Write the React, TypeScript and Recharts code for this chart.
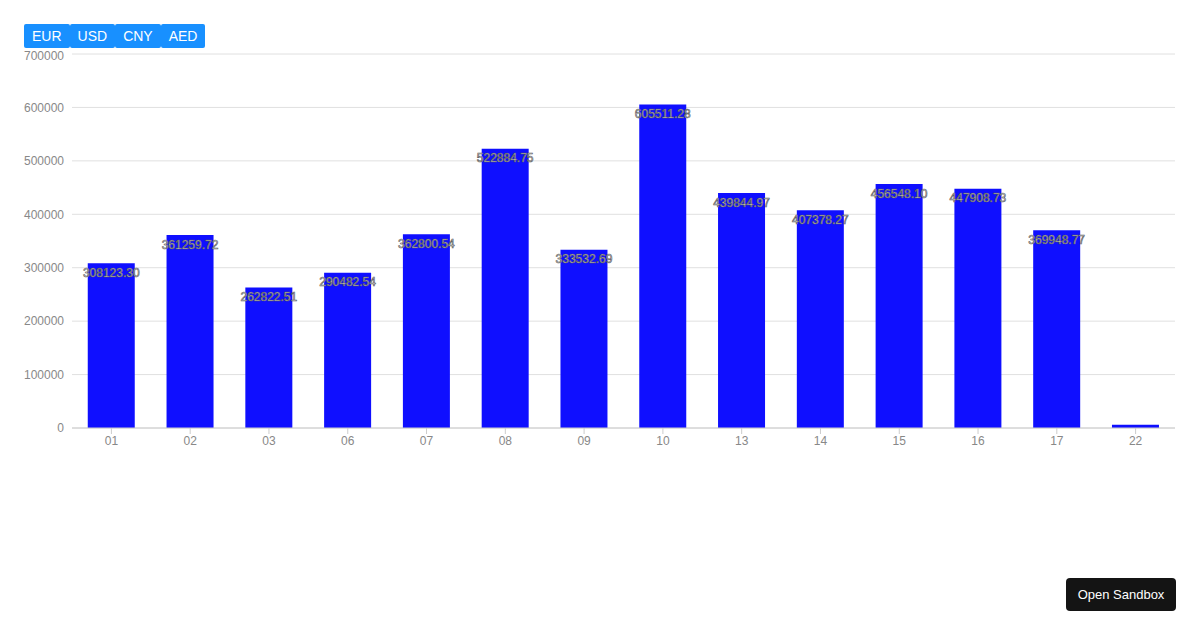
import { BarChart, Bar, XAxis, YAxis, CartesianGrid, LabelList } from "recharts";

const days = ["01", "02", "03", "06", "07", "08", "09", "10", "13", "14", "15", "16", "17", "22"];
const amounts = [
    308123.3, 361259.72, 262822.51, 290482.54, 362800.54, 522884.75, 333532.69,
    605511.28, 439844.97, 407378.27, 456548.1, 447908.73, 369948.77, 5900,
];
const yTicks = [0, 100000, 200000, 300000, 400000, 500000, 600000, 700000];
const currencies = ["EUR", "USD", "CNY", "AED"];

const data = days.map((day, i) => ({ day, amount: amounts[i] }));

// value label drawn just inside the top of each bar; skipped when the bar is too short
const BarValue = (props: any) => {
    const { x, y, width, height, value } = props;
    if (height < 14) return null;
    return (
        <text
            x={x + width / 2}
            y={y + 5}
            dy="0.71em"
            textAnchor="middle"
            fontSize={12}
            fill="#e8e8e8"
            stroke="#555"
            strokeWidth={0.6}
        >
            {Number(value).toFixed(2)}
        </text>
    );
};

export default function App() {
    return (
        <div style={{ position: "relative", width: 1184, height: 614, fontFamily: "'Liberation Sans', Arial, sans-serif" }}>
            <div style={{ position: "absolute", left: 16, top: 16, display: "flex", zIndex: 2 }}>
                {currencies.map((c) => (
                    <button
                        key={c}
                        style={{
                            height: 24,
                            padding: "0 8px",
                            background: "#1890ff",
                            color: "#fff",
                            border: "none",
                            borderRadius: 2,
                            fontSize: 14,
                            fontFamily: "'Liberation Sans', Arial, sans-serif",
                            cursor: "pointer",
                        }}
                    >
                        {c}
                    </button>
                ))}
            </div>
            <div style={{ position: "absolute", left: 1, top: 40 }}>
                <BarChart
                    width={1171}
                    height={415}
                    data={data}
                    margin={{ top: 6, right: 5, bottom: 5, left: 3 }}
                    barCategoryGap="20%"
                >
                    <CartesianGrid vertical={false} stroke="#e0e0e0" />
                    <XAxis
                        dataKey="day"
                        stroke="#ccc"
                        tick={{ fill: "#888", fontSize: 12 }}
                    />
                    <YAxis
                        domain={[0, 700000]}
                        ticks={yTicks}
                        axisLine={false}
                        tickLine={false}
                        tick={{ fill: "#888", fontSize: 12 }}
                    />
                    <Bar dataKey="amount" fill="#0f0fff" isAnimationActive={false}>
                        <LabelList dataKey="amount" content={BarValue} />
                    </Bar>
                </BarChart>
            </div>
            <button
                style={{
                    position: "fixed",
                    right: 24,
                    bottom: 19,
                    width: 110,
                    height: 33,
                    background: "#141414",
                    color: "#fff",
                    border: "none",
                    borderRadius: 4,
                    fontSize: 13,
                    fontFamily: "'Liberation Sans', Arial, sans-serif",
                }}
            >
                Open Sandbox
            </button>
        </div>
    );
}
